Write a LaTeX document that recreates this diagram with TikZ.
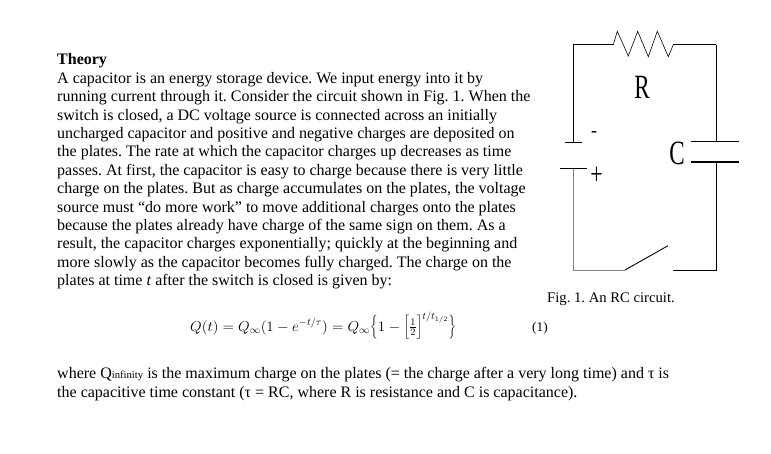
\documentclass[tikz,border=0pt]{standalone}
\usepackage{fontspec}
\setmainfont{Liberation Serif}
\frenchspacing
\begin{document}
\begin{tikzpicture}[x=1pt,y=-1pt]
  \tikzstyle{txt} = [anchor=base west, inner sep=0pt, font=\fontsize{16}{18}\selectfont]
  \tikzstyle{wire} = [draw, line width=0.9pt]
  \tikzstyle{thickwire} = [draw, line width=1.6pt]
  \tikzstyle{big} = [inner sep=0pt, font=\fontsize{34}{34}\selectfont, xscale=0.68]
  \useasboundingbox (0,0) rectangle (771,454);
  % text
  \node[txt, font=\fontsize{16}{18}\selectfont\bfseries] (head) at (57,65) {Theory};
  \foreach \i/\t in {0/{A capacitor is an energy storage device. We input energy into it by},
    1/{running current through it. Consider the circuit shown in Fig. 1. When the},
    2/{switch is closed, a DC voltage source is connected across an initially},
    3/{uncharged capacitor and positive and negative charges are deposited on},
    4/{the plates. The rate at which the capacitor charges up decreases as time},
    5/{passes. At first, the capacitor is easy to charge because there is very little},
    6/{charge on the plates. But as charge accumulates on the plates, the voltage},
    7/{source must “do more work” to move additional charges onto the plates},
    8/{because the plates already have charge of the same sign on them. As a},
    9/{result, the capacitor charges exponentially; quickly at the beginning and},
    10/{more slowly as the capacitor becomes fully charged. The charge on the},
    11/{plates at time \textit{t} after the switch is closed is given by:}}
    \node[txt] (line\i) at (57,{83.3+\i*18.4}) {\t};
  \node[txt, font=\fontsize{14.4}{18}\selectfont, xscale=1.04] (eqn) at (190,331) {$Q(t)=Q_\infty\Bigl(1-e^{-t/\tau}\Bigr)=Q_\infty\biggl\{1-\biggl[\frac{1}{2}\biggr]^{t/t_{1/2}}\biggr\}$};
  \node[txt, font=\fontsize{13.33}{16}\selectfont] (eqnum) at (532,331) {(1)};
  \node[txt] (last1) at (57,378.5) {where Q{\fontsize{10.67}{10}\selectfont infinity} is the maximum charge on the plates (= the charge after a very long time) and τ is};
  \node[txt] (last2) at (57,397.5) {the capacitive time constant (τ = RC, where R is resistance and C is capacitance).};
  \node[txt, font=\fontsize{14.67}{16}\selectfont] (cap) at (547,302) {Fig. 1. An RC circuit.};
  % circuit
  \coordinate (tl) at (573.3,44.7);
  \coordinate (rl) at (613.3,44.7);
  \coordinate (rr) at (673.3,44.7);
  \coordinate (tr) at (716,44.7);
  \coordinate (ct) at (716,141.3);
  \coordinate (cb) at (716,162);
  \coordinate (br) at (716,270);
  \coordinate (sr) at (673,270);
  \coordinate (sl) at (625,270);
  \coordinate (sw) at (668,245.7);
  \coordinate (bl) at (573.3,270);
  \coordinate (bt) at (573.3,142.3);
  \coordinate (bb) at (573.3,168.7);
  \draw[thickwire] (tl) -- (rl);
  \draw[thickwire] (rr) -- (tr);
  \draw[wire] (tl) -- (bt);
  \draw[wire] (tr) -- (ct);
  \draw[wire] (cb) -- (br) -- (sr);
  \draw[wire, gray] (bb) -- (bl) -- (sl);
  \draw[wire] (sl) -- (sw);
  \draw[draw, line width=0.6pt] (rl) -- (617.3,31.3) -- (628.3,56) -- (637.7,31.3) -- (648.3,56.7)
    -- (657.3,31.3) -- (668.3,56.7) -- (rr);
  \draw[wire] (691,141.3) -- (ct) -- (739,141.3);
  \draw[thickwire] (691,162) -- (cb) -- (739,162);
  \draw[wire] (565,142.3) -- (bt) -- (581.7,142.3);
  \draw[wire] (560,168.7) -- (bb) -- (587,168.7);
  \node[big] (R) at (642,87) {R};
  \node[big] (C) at (677,153.5) {C};
  \node[inner sep=0pt, font=\fontsize{18}{18}\selectfont\bfseries] (minus) at (594,134) {-};
  \node[inner sep=0pt, font=\fontsize{22}{22}\selectfont, yscale=1.4] (plus) at (596.5,176) {+};
\end{tikzpicture}
\end{document}
